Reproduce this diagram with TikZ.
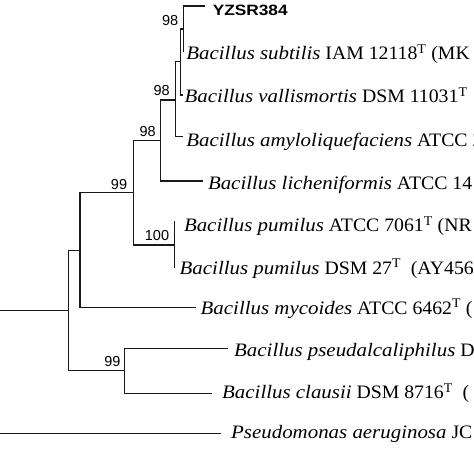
\documentclass[tikz,border=0pt]{standalone}
\usepackage{fontspec}
\setmainfont{Liberation Serif}[UprightFeatures={FakeStretch=1.04},ItalicFeatures={FakeStretch=1.10}]
\newfontfamily\bootsans{Liberation Sans}
\newfontfamily\yzsans{Liberation Sans}[FakeStretch=1.15]
\newcommand{\taxfont}{\fontsize{19}{21}\selectfont}
\newcommand{\bootfont}{\bootsans\fontsize{14.5}{16}\selectfont}
\begin{document}
\begin{tikzpicture}[x=1pt,y=-1pt,
  branch/.style={line width=1.3pt,draw=black!90},
  taxon/.style={anchor=base west,inner sep=0pt,font=\taxfont},
  boot/.style={anchor=base east,inner sep=0pt,font=\bootfont}]
\clip (0,0) rectangle (474,474);
\fill[white] (0,0) rectangle (474,474);
% internal nodes
\coordinate (root) at (-3,371.8);
\coordinate (H) at (68.8,310.3);
\coordinate (G) at (80,250.5);
\coordinate (E) at (133.3,192.7);
\coordinate (D) at (160.3,140.3);
\coordinate (C) at (175.7,100);
\coordinate (B) at (180.7,61.7);
\coordinate (A) at (183.3,29);
\coordinate (F) at (174.3,245);
\coordinate (I) at (124.3,370.8);
% leaf ends
\coordinate (lYZ) at (205,6);
\coordinate (lSub) at (184,51);
\coordinate (lVal) at (183.3,95);
\coordinate (lAmy) at (183.3,136.7);
\coordinate (lLic) at (203.3,181);
\coordinate (lPuA) at (175,222);
\coordinate (lPuD) at (175,267);
\coordinate (lMyc) at (195.5,307.7);
\coordinate (lPsa) at (228.3,348.3);
\coordinate (lCla) at (211.7,393.3);
\coordinate (lPse) at (220.7,433.3);
% branches
\draw[branch] (root) |- (H);
\draw[branch] (root) |- (lPse);
\draw[branch] (H) |- (G);
\draw[branch] (H) |- (I);
\draw[branch] (G) |- (E);
\draw[branch] (G) |- (lMyc);
\draw[branch] (E) |- (D);
\draw[branch] (E) |- (F);
\draw[branch] (D) |- (C);
\draw[branch] (D) |- (lLic);
\draw[branch] (C) |- (B);
\draw[branch] (C) |- (lAmy);
\draw[branch] (B) |- (A);
\draw[branch] (B) |- (lVal);
\draw[branch] (A) |- (lYZ);
\draw[branch] (A) |- (lSub);
\draw[branch] (F) |- (lPuA);
\draw[branch] (F) |- (lPuD);
\draw[branch] (I) |- (lPsa);
\draw[branch] (I) |- (lCla);
% taxon labels
\node[anchor=base west,inner sep=0pt,font=\yzsans\bfseries\fontsize{15}{17}\selectfont] (tYZ) at (212.7,15) {YZSR384};
\node[taxon] (tSub) at (186.2,59.3) {\textit{Bacillus subtilis} IAM 12118\textsuperscript{T} (MK};
\node[taxon] (tVal) at (184.5,102.3) {\textit{Bacillus vallismortis} DSM 11031\textsuperscript{T}};
\node[taxon] (tAmy) at (186.2,146.2) {\textit{Bacillus amyloliquefaciens} ATCC 2};
\node[taxon] (tLic) at (207.8,189.3) {\textit{Bacillus licheniformis} ATCC 14};
\node[taxon] (tPuA) at (183.8,231.7) {\textit{Bacillus pumilus} ATCC 7061\textsuperscript{T} (NR};
\node[taxon] (tPuD) at (179.5,274) {\textit{Bacillus pumilus} DSM 27\textsuperscript{T}\ \ (AY456};
\node[taxon] (tMyc) at (200.5,314) {\textit{Bacillus mycoides} ATCC 6462\textsuperscript{T} (};
\node[taxon] (tPsa) at (234,356.7) {\textit{Bacillus pseudalcaliphilus} D};
\node[taxon] (tCla) at (222,398.3) {\textit{Bacillus clausii} DSM 8716\textsuperscript{T}\ \ (};
\node[taxon] (tPse) at (231,438.3) {\textit{Pseudomonas aeruginosa} JC};
% bootstrap values
\node[boot] (b1) at (178.5,25) {98};
\node[boot] (b2) at (170,95) {98};
\node[boot] (b3) at (156,136) {98};
\node[boot] (b4) at (127.3,189.3) {99};
\node[boot] (b5) at (169.3,240) {100};
\node[boot] (b6) at (120.7,366.7) {99};
\end{tikzpicture}
\end{document}
